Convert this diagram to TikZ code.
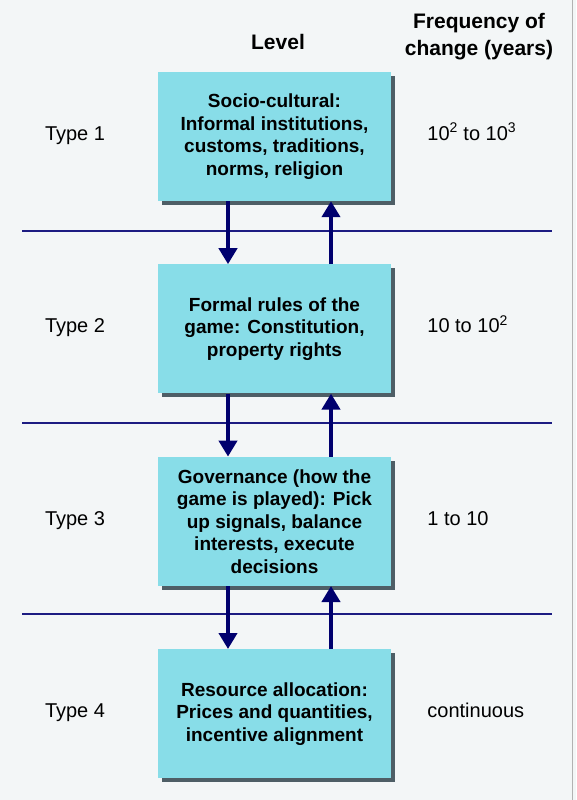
\documentclass[tikz,border=0pt]{standalone}
\usepackage{fontspec}
\setmainfont{Liberation Sans}
\usetikzlibrary{positioning}
\usetikzlibrary{arrows.meta, shadows}

\definecolor{boxcyan}{HTML}{88DDE8}
\definecolor{boxshade}{HTML}{4E5E66}
\definecolor{navy}{HTML}{00006E}
\definecolor{rulenavy}{HTML}{1C1C82}
\definecolor{pagebg}{HTML}{F3F6F7}

\begin{document}
\begin{tikzpicture}[
            x = 1pt, y = -1pt, % pixel grid, y runs down
            > = {Triangle[width=18pt, length=16pt]}, % arrow head style
            flow/.style = {->, navy, line width=4pt},
            sep/.style = {rulenavy, line width=1.3pt},
            level/.style = {rectangle, fill=boxcyan, minimum width=233pt, minimum height=129pt,
                inner sep=0pt, align=center, font=\fontsize{19}{22.5}\selectfont\bfseries,
                general shadow={fill=boxshade, shadow xshift=4pt, shadow yshift=-4pt}},
            tag/.style = {font=\fontsize{20}{24}\selectfont, inner sep=0pt},
            head/.style = {font=\fontsize{21}{27}\selectfont\bfseries, inner sep=0pt, align=center}
        ]

        \fill[pagebg] (0,0) rectangle (576,800);
        \useasboundingbox (0,0) rectangle (576,800);
        \draw[gray!60, line width=1.5pt] (572.5,0) -- (572.5,800);

        % the four levels
        \node[level] (L1) at (274.5,136.5) {Socio-cultural:\\ Informal institutions,\\ customs, traditions,\\ norms, religion};
        \node[level] (L2) [below=63pt of L1] {Formal rules of the\\ game: Constitution,\\ property rights};
        \node[level] (L3) [below=63pt of L2] {Governance (how the\\ game is played): Pick\\ up signals, balance\\ interests, execute\\ decisions};
        \node[level] (L4) [below=63pt of L3] {Resource allocation:\\ Prices and quantities,\\ incentive alignment};

        % column heads
        \node[head, anchor=base] (LV) at ([xshift=3.5pt, yshift=22pt]L1.north) {Level};
        \node[head, anchor=north] (FC) at (479,13) {Frequency of\\ change (years)};

        % types and frequencies
        \node[tag, anchor=base west] (T1) at ([xshift=-113pt, yshift=-4pt]L1.west) {Type 1};
        \node[tag, anchor=base west] (T2) at ([xshift=-113pt, yshift=-4pt]L2.west) {Type 2};
        \node[tag, anchor=base west] (T3) at ([xshift=-113pt, yshift=-4pt]L3.west) {Type 3};
        \node[tag, anchor=base west] (T4) at ([xshift=-113pt, yshift=-4pt]L4.west) {Type 4};

        \node[tag, anchor=base west] (F1) at ([xshift=36pt, yshift=-4pt]L1.east) {10\textsuperscript{2} to 10\textsuperscript{3}};
        \node[tag, anchor=base west] (F2) at ([xshift=36pt, yshift=-4pt]L2.east) {10 to 10\textsuperscript{2}};
        \node[tag, anchor=base west] (F3) at ([xshift=36pt, yshift=-4pt]L3.east) {1 to 10};
        \node[tag, anchor=base west] (F4) at ([xshift=36pt, yshift=-4pt]L4.east) {continuous};

        % separators
        \draw[sep] (22,231) -- (552,231);
        \draw[sep] (22,423) -- (552,423);
        \draw[sep] (22,614) -- (552,614);

        % down and up links
        \draw[flow] ([xshift=-46.5pt]L1.south) -- ([xshift=-46.5pt]L2.north);
        \draw[flow] ([xshift=56.5pt]L2.north) -- ([xshift=56.5pt]L1.south);
        \draw[flow] ([xshift=-46.5pt]L2.south) -- ([xshift=-46.5pt]L3.north);
        \draw[flow] ([xshift=56.5pt]L3.north) -- ([xshift=56.5pt]L2.south);
        \draw[flow] ([xshift=-46.5pt]L3.south) -- ([xshift=-46.5pt]L4.north);
        \draw[flow] ([xshift=56.5pt]L4.north) -- ([xshift=56.5pt]L3.south);

\end{tikzpicture}
\end{document}
